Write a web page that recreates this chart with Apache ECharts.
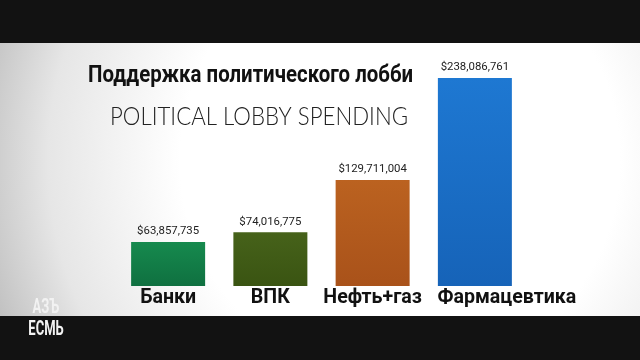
<!DOCTYPE html>
<html><head><meta charset="utf-8">
<script src="https://cdn.jsdelivr.net/npm/echarts@6/dist/echarts.min.js"></script>
<style>html,body{margin:0;padding:0;background:#121212}#c{width:640px;height:360px}</style>
</head><body><div id="c"></div>
<script>
const categories = ['Банки', 'ВПК', 'Нефть+газ', 'Фармацевтика'];
const spending = [63857735, 74016775, 129711004, 238086761];
const barColors = [['#168a4e','#0f7040'], ['#46621a','#3a5412'], ['#bb6220','#a9521a'], ['#1e78d2','#1663b8']];
const titleRu = 'Поддержка политического лобби';
const titleEn = 'POLITICAL LOBBY SPENDING';
const logoText = 'АЗЪ\nЕСМЬ';

const FONT = 'Roboto, "Liberation Sans", sans-serif';
const ctx = document.createElement('canvas').getContext('2d');
function measure(text, font) { ctx.font = font; return ctx.measureText(text).width; }
const titleFont = 'bold 23px ' + FONT;
const titleScale = 325 / measure(titleRu, titleFont);
const subFont = '300 25px Lato, "Open Sans", sans-serif';
const subScale = 298 / measure(titleEn, subFont);
const catSize = Math.round(24 * 139 / measure('Фармацевтика', 'bold 24px ' + FONT) * 10) / 10;
const valSize = Math.round(12 * 62 / measure('$63,857,735', '12px ' + FONT) * 10) / 10;
// the last label in the reference starts at its bar's left edge instead of being centred
const catData = categories.map((c, i) => i === categories.length - 1
  ? {value: c, textStyle: {padding: [0, 0, 0, 64]}} : c);

const chart = echarts.init(document.getElementById('c'), null, {renderer: 'canvas'});
chart.setOption({
  backgroundColor: '#121212',
  animation: false,
  graphic: [
    {type: 'rect', z: -10, shape: {x: 0, y: 43, width: 640, height: 273},
      style: {fill: {type: 'radial', x: 400, y: 160, r: 440, global: true,
        colorStops: [{offset: 0, color: '#ffffff'}, {offset: 0.5, color: '#ffffff'}, {offset: 0.8, color: '#e6e6e6'}, {offset: 1, color: '#bcbcbc'}]}}},
    {type: 'text', x: 88, y: 65, scaleX: titleScale, style: {text: titleRu, font: titleFont, fill: '#111'}},
    {type: 'text', x: 110, y: 104, scaleX: subScale, style: {text: titleEn, font: subFont, fill: '#222'}},
    {type: 'text', x: 46, y: 297, scaleX: 0.62, style: {text: logoText, font: 'bold 21px ' + FONT, fill: '#f2f2f2', lineHeight: 22, align: 'center'}}
  ],
  grid: {left: 117, right: 114, top: 60, bottom: 74},
  xAxis: {
    type: 'category', data: catData,
    axisLine: {show: false}, axisTick: {show: false},
    axisLabel: {margin: 2, color: '#111', fontSize: catSize, fontWeight: 'bold', fontFamily: FONT, interval: 0}
  },
  yAxis: {type: 'value', min: 17000000, max: 257200000, show: false, splitLine: {show: false}},
  series: [{
    type: 'bar', barWidth: 74, clip: true,
    data: spending.map((v, i) => ({value: v, itemStyle: {color: {type: 'linear', x: 0, y: 0, x2: 0, y2: 1,
      colorStops: [{offset: 0, color: barColors[i][0]}, {offset: 1, color: barColors[i][1]}]}}})),
    label: {show: true, position: 'top', distance: 5, color: '#222', fontSize: valSize, fontFamily: FONT,
      formatter: p => '$' + p.value.toLocaleString('en-US')}
  }]
});
</script></body></html>
